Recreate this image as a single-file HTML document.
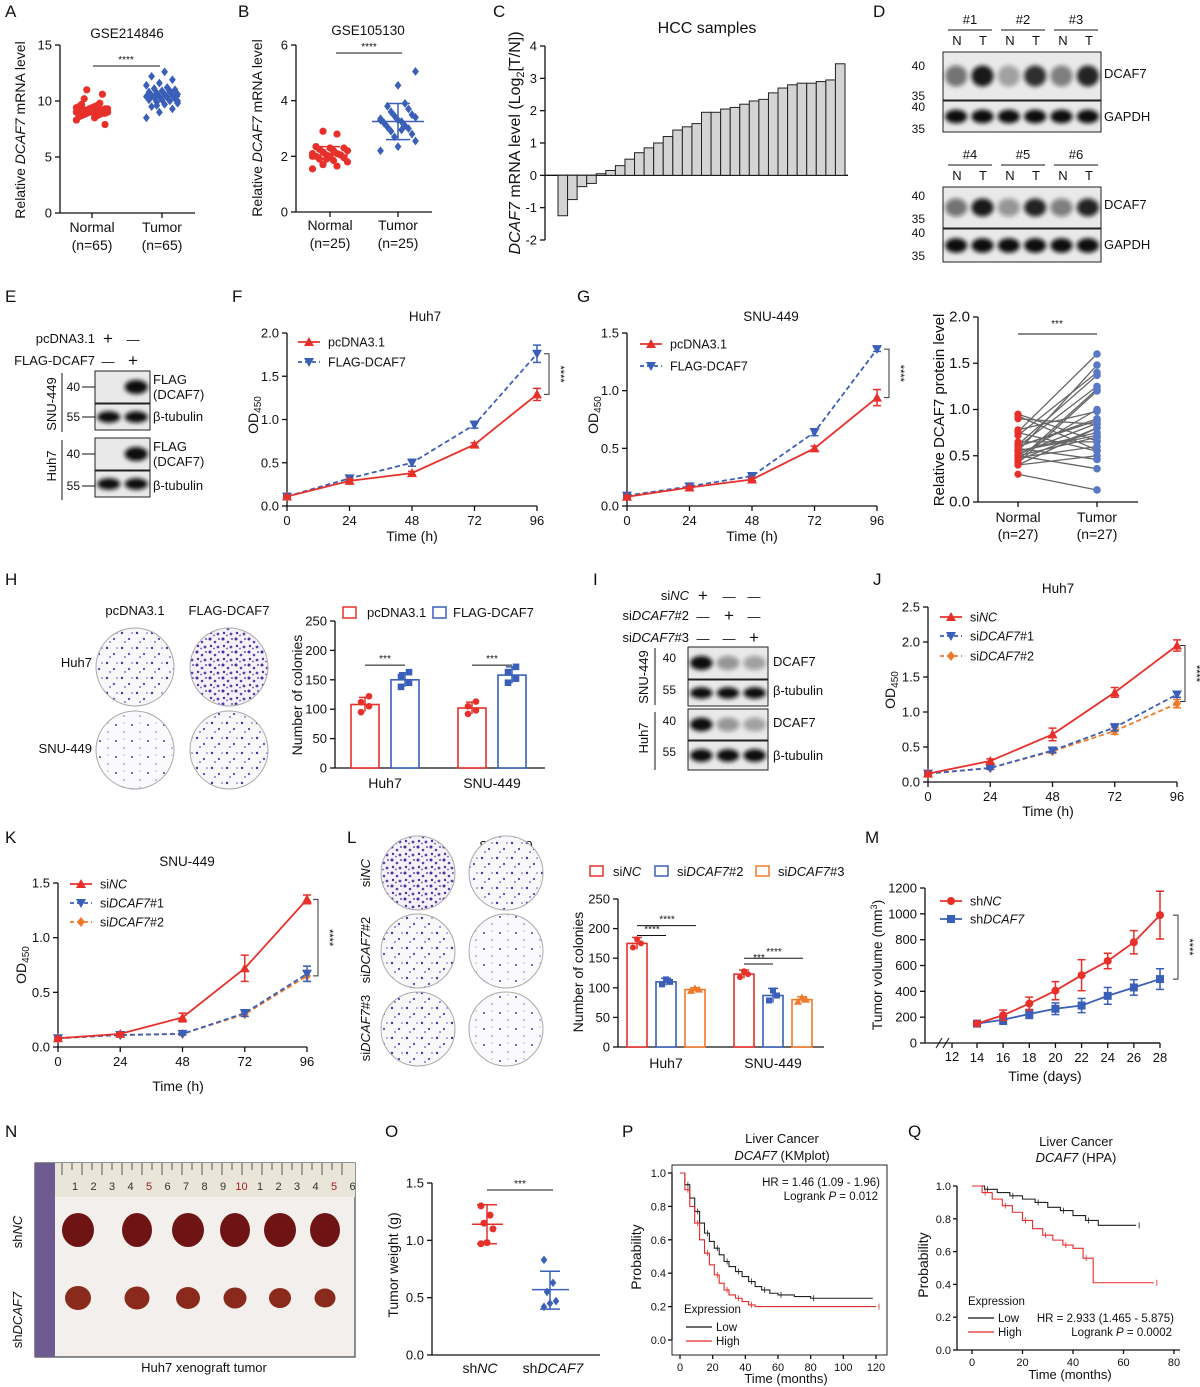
<!DOCTYPE html>
<html><head><meta charset="utf-8">
<style>
html,body{margin:0;padding:0;background:#fff;}
svg{display:block;font-family:"Liberation Sans",Arial,sans-serif;}
</style></head>
<body>
<svg id="fig" xmlns="http://www.w3.org/2000/svg" width="1200" height="1387" viewBox="0 0 1200 1387">
<defs>
<filter id="blur" x="-20%" y="-50%" width="140%" height="200%"><feGaussianBlur stdDeviation="2.2"/></filter>
<pattern id="dense" width="13" height="13" patternUnits="userSpaceOnUse"><rect width="13" height="13" fill="#f4f2f8"/><circle cx="2" cy="2" r="1.5" fill="#4b2fa0"/><circle cx="7" cy="5" r="1.3" fill="#5a3fb0"/><circle cx="3" cy="9" r="1.2" fill="#4b2fa0"/><circle cx="10" cy="10" r="1.4" fill="#5a3fb0"/><circle cx="11" cy="2" r="1" fill="#6a4fc0"/><circle cx="6" cy="11.5" r="0.9" fill="#6a4fc0"/></pattern>
<pattern id="medium" width="15" height="15" patternUnits="userSpaceOnUse"><rect width="15" height="15" fill="#f8f7fa"/><circle cx="2" cy="3" r="1.2" fill="#4b2fa0"/><circle cx="9" cy="9" r="1.1" fill="#5a3fb0"/><circle cx="12" cy="3" r="0.8" fill="#6a4fc0"/><circle cx="5" cy="12" r="0.9" fill="#6a4fc0"/></pattern>
<pattern id="sparse" width="16" height="16" patternUnits="userSpaceOnUse"><rect width="16" height="16" fill="#faf9fb"/><circle cx="4" cy="5" r="1" fill="#5a3fb0"/><circle cx="12" cy="12" r="0.8" fill="#7a62c0"/><circle cx="12" cy="3" r="0.6" fill="#9a88cc"/></pattern>
</defs>
</svg>
<script>
// ---------- data ----------
const aNormal=[8.3,8.5,8.6,8.7,8.7,8.8,8.8,8.9,8.9,8.9,9.0,9.0,9.0,9.0,9.1,9.1,9.1,9.1,9.2,9.2,9.2,9.2,9.3,9.3,9.3,9.4,9.4,9.5,9.5,9.6,9.7,9.8,10.2,10.6,11.0,7.9];
const aTumor=[8.5,9.0,9.3,9.5,9.7,9.8,9.9,10.0,10.1,10.1,10.2,10.3,10.3,10.4,10.4,10.5,10.5,10.6,10.6,10.7,10.8,10.8,10.9,11.0,11.1,11.2,11.4,11.6,11.9,12.2,12.6,10.0,9.6,10.9];
const bNormal=[1.55,1.65,1.7,1.8,1.85,1.9,1.95,2.0,2.0,2.05,2.05,2.1,2.1,2.15,2.2,2.2,2.25,2.3,2.3,2.35,2.05,1.9,2.0,2.8,2.9];
const bTumor=[2.2,2.35,2.55,2.7,2.8,2.9,3.0,3.05,3.1,3.2,3.25,3.3,3.3,3.4,3.45,3.5,3.6,3.7,3.8,3.9,3.2,2.95,3.35,4.55,5.05];
const cValues=[-1.25,-0.75,-0.35,-0.25,0.05,0.15,0.3,0.5,0.7,0.85,1.0,1.2,1.4,1.5,1.6,1.95,1.95,2.05,2.1,2.2,2.3,2.35,2.55,2.7,2.8,2.85,2.85,2.9,2.95,3.45];
const timeH=[0,24,48,72,96];
const fPc=[0.11,0.29,0.38,0.71,1.29], fPcErr=[0.01,0.02,0.02,0.02,0.07];
const fFlag=[0.11,0.32,0.5,0.94,1.76], fFlagErr=[0.01,0.02,0.04,0.04,0.1];
const gPc=[0.08,0.16,0.23,0.5,0.94], gPcErr=[0.01,0.01,0.01,0.02,0.07];
const gFlag=[0.09,0.17,0.26,0.64,1.36], gFlagErr=[0.01,0.01,0.01,0.03,0.02];
const pairNormal=[0.3,0.4,0.42,0.45,0.48,0.5,0.5,0.52,0.55,0.55,0.58,0.6,0.6,0.62,0.65,0.72,0.75,0.76,0.78,0.5,0.45,0.55,0.6,0.9,0.93,0.95,0.4];
const pairTumor=[0.13,0.5,1.2,0.8,0.6,1.0,0.36,0.85,1.48,0.75,0.46,1.25,0.9,1.37,0.65,1.4,0.55,1.6,0.98,0.7,1.22,0.72,0.88,0.84,0.56,0.66,0.8];
const hGroups=['Huh7','SNU-449'];
const hPc=[108,102], hPcSd=[12,10], hFlag=[150,158], hFlagSd=[12,14];
const hPcPts=[[95,105,112,122],[92,98,105,113]], hFlagPts=[[138,145,155,163],[145,152,163,172]];
const jNC=[0.12,0.3,0.68,1.28,1.95], jNCe=[0.02,0.03,0.09,0.07,0.08];
const j1=[0.12,0.2,0.45,0.78,1.25], j1e=[0.01,0.02,0.03,0.05,0.04];
const j2=[0.12,0.2,0.44,0.73,1.12], j2e=[0.01,0.02,0.03,0.05,0.06];
const kNC=[0.08,0.12,0.27,0.72,1.35], kNCe=[0.01,0.01,0.04,0.12,0.04];
const k1=[0.08,0.11,0.12,0.31,0.67], k1e=[0.01,0.01,0.01,0.03,0.07];
const k2=[0.08,0.11,0.12,0.3,0.65], k2e=[0.01,0.01,0.01,0.02,0.05];
const lNC=[175,123], lNCsd=[10,7], l2=[110,87], l2sd=[6,12], l3=[97,80], l3sd=[3,5];
const days=[14,16,18,20,22,24,26,28];
const mNC=[150,215,305,405,525,635,780,990], mNCe=[15,40,50,70,120,60,90,185];
const mSh=[150,180,225,265,290,365,430,495], mShe=[15,35,35,45,55,65,60,80];
const oNC=[1.3,1.22,1.15,1.1,0.98,0.97], oSh=[0.83,0.63,0.55,0.47,0.45,0.42];
const pLowT=[0,3,6,9,12,15,18,21,24,27,30,34,38,42,46,50,55,60,70,80,118];
const pLowS=[1,0.93,0.85,0.77,0.7,0.64,0.59,0.55,0.51,0.47,0.44,0.41,0.38,0.35,0.32,0.3,0.28,0.27,0.26,0.25,0.25];
const pHighT=[0,3,6,9,12,15,18,21,24,27,30,34,38,42,46,120];
const pHighS=[1,0.9,0.8,0.7,0.6,0.52,0.45,0.39,0.34,0.3,0.27,0.25,0.23,0.21,0.2,0.2];
const qLowT=[0,5,10,15,20,25,30,35,40,45,50,65];
const qLowS=[1,0.98,0.96,0.94,0.92,0.9,0.87,0.85,0.82,0.79,0.76,0.76];
const qHighT=[0,4,8,12,16,20,24,28,32,36,40,44,48,72];
const qHighS=[1,0.96,0.92,0.88,0.84,0.79,0.74,0.7,0.67,0.64,0.62,0.56,0.41,0.41];

// ---------- helpers ----------
const NS='http://www.w3.org/2000/svg';
const S=document.getElementById('fig');
const RED='#e8302b', BLUE='#3a5fb8', ORANGE='#f07a2a';
function mk(tag,attrs,name){const e=document.createElementNS(NS,tag);for(const k in attrs)e.setAttribute(k,attrs[k]);


S.appendChild(e);return e;}
function tx(x,y,s,name,o){o=o||{};const e=mk('text',{x:x,y:y,'font-size':o.fs||13,'text-anchor':o.a||'middle',fill:o.fill||'#111','font-style':o.it?'italic':'normal'},name);
if(o.rot)e.setAttribute('transform','rotate('+o.rot+' '+x+' '+y+')');
e.innerHTML=s;return e;}
function ln(x1,y1,x2,y2,name,o){o=o||{};return mk('line',{x1:x1,y1:y1,x2:x2,y2:y2,stroke:o.c||'#111','stroke-width':o.w||1.3,'stroke-dasharray':o.d||'none'},name);}
function sc(d0,d1,p0,p1){return v=>p0+(v-d0)/(d1-d0)*(p1-p0);}
function yAxis(x,sy,ticks,name,fs,dec){ln(x,sy(ticks[0]),x,sy(ticks[ticks.length-1]),name);
ticks.forEach(t=>{ln(x-5,sy(t),x,sy(t),name+'-tick');tx(x-8,sy(t)+4.5,dec?t.toFixed(dec):String(t),name+'-label',{a:'end',fs:fs||13});});}
function xAxis(y,sx,ticks,name,labels,fs){ln(sx(ticks[0]),y,sx(ticks[ticks.length-1]),y,name);
ticks.forEach((t,i)=>{ln(sx(t),y,sx(t),y+5,name+'-tick');tx(sx(t),y+19,labels?labels[i]:String(t),name+'-label',{fs:fs||13});});}
function marker(x,y,shape,color,name,sz){sz=sz||4;
if(shape==='tri')return mk('polygon',{points:(x)+','+(y-sz-1)+' '+(x-sz-1)+','+(y+sz)+' '+(x+sz+1)+','+(y+sz),fill:color},name);
if(shape==='tridown')return mk('polygon',{points:(x)+','+(y+sz+1)+' '+(x-sz-1)+','+(y-sz)+' '+(x+sz+1)+','+(y-sz),fill:color},name);
if(shape==='dia')return mk('polygon',{points:x+','+(y-sz-1)+' '+(x+sz)+','+y+' '+x+','+(y+sz+1)+' '+(x-sz)+','+y,fill:color},name);
if(shape==='sq')return mk('rect',{x:x-sz,y:y-sz,width:2*sz,height:2*sz,fill:color},name);
return mk('circle',{cx:x,cy:y,r:sz,fill:color},name);}
function series(sx,sy,xs,ys,es,color,shape,dash,name){
let d='';xs.forEach((x,i)=>{d+=(i?'L':'M')+sx(x)+','+sy(ys[i]);});
mk('path',{d:d,fill:'none',stroke:color,'stroke-width':1.8,'stroke-dasharray':dash?'5,3':'none'},name+'-line');
xs.forEach((x,i)=>{if(es&&es[i]){const X=sx(x);ln(X,sy(ys[i]-es[i]),X,sy(ys[i]+es[i]),name+'-errorbar',{c:color,w:1.5});
ln(X-4,sy(ys[i]+es[i]),X+4,sy(ys[i]+es[i]),name+'-errorcap',{c:color,w:1.5});ln(X-4,sy(ys[i]-es[i]),X+4,sy(ys[i]-es[i]),name+'-errorcap',{c:color,w:1.5});}
marker(sx(x),sy(ys[i]),shape,color,name+'-point');});}
function bracket(x,y1,y2,name){mk('path',{d:'M'+(x-5)+','+y1+'H'+x+'V'+y2+'H'+(x-5),fill:'none',stroke:'#333','stroke-width':1},name);
tx(x+8,(y1+y2)/2,'****',name+'-stars',{fs:11,rot:90});}
function panelLabel(x,y,s){tx(x,y,s,'panel-label-'+s,{fs:17,a:'start'});}
function legendLine(x,y,color,shape,dash,label,name){ln(x,y,x+22,y,name+'-swatch',{c:color,w:1.8,d:dash?'4,3':'none'});marker(x+11,y,shape,color,name+'-marker');tx(x+30,y+4.5,label,name,{a:'start',fs:12.5});}
function ylabel(x,y,s,name,fs){tx(x,y,s,name,{rot:-90,fs:fs||14});}
function blot(x,y,w,h,lanes,name){mk('rect',{x:x,y:y,width:w,height:h,fill:'#e9e9e9',stroke:'#222','stroke-width':1},name);
const lw=w/lanes.length;lanes.forEach((v,i)=>{if(v>0)mk('ellipse',{cx:x+lw*(i+0.5),cy:y+h/2,rx:lw*0.42,ry:h*0.22,fill:'#111','fill-opacity':v,filter:'url(#blur)'},name+'-band');});}

// ---------- Panel A ----------
panelLabel(5,17,'A');
tx(127,38,'GSE214846','panel-a-title',{fs:13.5});
let sA=sc(0,15,213,45);
yAxis(60,sA,[0,5,10,15],'panel-a-y-axis');
ln(60,213,195,213,'panel-a-x-axis');ln(92,213,92,218,'tick');ln(162,213,162,218,'tick');
tx(92,232,'Normal','x-label-normal',{fs:14});tx(92,250,'(n=65)','x-label-n',{fs:14});
tx(162,232,'Tumor','x-label-tumor',{fs:14});tx(162,250,'(n=65)','x-label-n',{fs:14});
ylabel(25,130,'Relative <tspan font-style="italic">DCAF7</tspan> mRNA level','panel-a-y-title');
aNormal.forEach((v,i)=>marker(92+((i*7)%13-6)*2.6,sA(v),'c',RED,'normal-point',3.6));
aTumor.forEach((v,i)=>marker(162+((i*5)%13-6)*2.6,sA(v),'dia',BLUE,'tumor-point',3.4));
ln(75,sA(9.1),110,sA(9.1),'mean',{c:RED,w:1.5});ln(145,sA(10.4),180,sA(10.4),'mean',{c:BLUE,w:1.5});
ln(93,66,160,66,'sig-line',{w:1});tx(126,63,'****','sig',{fs:10});

// ---------- Panel B ----------
panelLabel(238,17,'B');
tx(368,35,'GSE105130','panel-b-title',{fs:13.5});
let sB=sc(0,6,212,45);
yAxis(296,sB,[0,2,4,6],'panel-b-y-axis');
ln(296,212,432,212,'panel-b-x-axis');ln(330,212,330,217,'tick');ln(398,212,398,217,'tick');
tx(330,230,'Normal','x-label-normal',{fs:14});tx(330,248,'(n=25)','x-label-n',{fs:14});
tx(398,230,'Tumor','x-label-tumor',{fs:14});tx(398,248,'(n=25)','x-label-n',{fs:14});
ylabel(262,128,'Relative <tspan font-style="italic">DCAF7</tspan> mRNA level','panel-b-y-title');
bNormal.forEach((v,i)=>marker(330+((i*7)%11-5)*3.5,sB(v),'c',RED,'normal-point',3.6));
bTumor.forEach((v,i)=>marker(398+((i*5)%11-5)*3.5,sB(v),'dia',BLUE,'tumor-point',3.4));
ln(312,sB(2.05),348,sB(2.05),'mean',{c:RED,w:1.5});ln(320,sB(2.35),340,sB(2.35),'sd',{c:RED,w:1.5});
ln(372,sB(3.25),424,sB(3.25),'mean',{c:BLUE,w:1.5});ln(386,sB(3.9),410,sB(3.9),'sd',{c:BLUE,w:1.5});ln(386,sB(2.6),410,sB(2.6),'sd',{c:BLUE,w:1.5});ln(398,sB(2.6),398,sB(3.9),'sd',{c:BLUE,w:1.5});
ln(336,53,402,53,'sig-line',{w:1});tx(369,50,'****','sig',{fs:10});

// ---------- Panel C ----------
panelLabel(493,17,'C');
tx(707,33,'HCC samples','panel-c-title',{fs:16});
let sC=sc(-2,4,240,46);
yAxis(545,sC,[-2,-1,0,1,2,3,4],'panel-c-y-axis');
ln(545,sC(0),848,sC(0),'zero-line');
ylabel(520,143,'<tspan font-style="italic">DCAF7</tspan> mRNA level (Log<tspan font-size="11" dy="4">2</tspan><tspan dy="-4">[T/N])</tspan>','panel-c-y-title',16);
const bwC=(845-558)/cValues.length;
cValues.forEach((v,i)=>{const y0=sC(0),y1=sC(v);mk('rect',{x:558+i*bwC,y:Math.min(y0,y1),width:bwC,height:Math.abs(y1-y0),fill:'#d4d4d4',stroke:'#222','stroke-width':1},'bar-sample');});

// ---------- Panel D ----------
panelLabel(873,17,'D');
function dHeader(y,labs){[0,1,2].forEach(i=>{const cx=970+i*53;tx(cx,y,labs[i],'sample-label',{fs:13});ln(cx-22,y+6,cx+22,y+6,'underline',{w:1});tx(cx-13,y+21,'N','n-label');tx(cx+13,y+21,'T','t-label');});}
dHeader(24,['#1','#2','#3']);
blot(943,52,158,48,[0.55,0.95,0.35,0.85,0.5,0.9],'dcaf7-blot');
blot(943,101,158,31,[1,1,1,1,1,1],'gapdh-blot');
tx(925,70,'40','mw',{fs:12,a:'end'});tx(925,100,'35','mw',{fs:12,a:'end'});tx(925,111,'40','mw',{fs:12,a:'end'});tx(925,133,'35','mw',{fs:12,a:'end'});
tx(1104,78,'DCAF7','label',{a:'start'});tx(1104,121,'GAPDH','label',{a:'start'});
dHeader(159,['#4','#5','#6']);
blot(943,187,158,41,[0.55,0.95,0.4,0.9,0.5,0.9],'dcaf7-blot');
blot(943,229,158,33,[1,1,1,1,1,1],'gapdh-blot');
tx(925,200,'40','mw',{fs:12,a:'end'});tx(925,223,'35','mw',{fs:12,a:'end'});tx(925,237,'40','mw',{fs:12,a:'end'});tx(925,260,'35','mw',{fs:12,a:'end'});
tx(1104,209,'DCAF7','label',{a:'start'});tx(1104,249,'GAPDH','label',{a:'start'});

// ---------- Panel E ----------
panelLabel(5,302,'E');
tx(95,343,'pcDNA3.1','label',{a:'end'});tx(95,365,'FLAG-DCAF7','label',{a:'end'});
tx(108,344,'+','plus',{fs:17});tx(133,344,'—','minus');tx(108,366,'—','minus');tx(133,366,'+','plus',{fs:17});
blot(95,371,55,32,[0,1],'flag-blot');blot(95,404,55,26,[1,1],'tubulin-blot');
blot(95,438,55,32,[0,1],'flag-blot');blot(95,471,55,26,[1,1],'tubulin-blot');
tx(80,391,'40','mw',{fs:12,a:'end'});tx(80,421,'55','mw',{fs:12,a:'end'});tx(80,458,'40','mw',{fs:12,a:'end'});tx(80,490,'55','mw',{fs:12,a:'end'});
ln(82,387,95,387,'mw-tick',{w:1});ln(82,417,95,417,'mw-tick',{w:1});ln(82,454,95,454,'mw-tick',{w:1});ln(82,486,95,486,'mw-tick',{w:1});
tx(153,384,'FLAG','label',{a:'start'});tx(153,399,'(DCAF7)','label',{a:'start'});tx(153,421,'β-tubulin','label',{a:'start'});
tx(153,451,'FLAG','label',{a:'start'});tx(153,466,'(DCAF7)','label',{a:'start'});tx(153,490,'β-tubulin','label',{a:'start'});
tx(56,404,'SNU-449','cell-line',{rot:-90});tx(56,466,'Huh7','cell-line',{rot:-90});
ln(62,373,62,432,'bracket',{w:1});ln(62,440,62,500,'bracket',{w:1});

// ---------- Panel F ----------
panelLabel(232,302,'F');
tx(425,321,'Huh7','panel-f-title',{fs:13.5});
let fX=sc(0,96,287,537),fY=sc(0,2,506,333);
yAxis(287,fY,[0,0.5,1,1.5,2],'panel-f-y-axis',13,1);
xAxis(506,fX,timeH,'panel-f-x-axis');
tx(412,541,'Time (h)','panel-f-x-title',{fs:14});
ylabel(258,415,'OD<tspan font-size="10" dy="3">450</tspan>','panel-f-y-title');
series(fX,fY,timeH,fFlag,fFlagErr,BLUE,'tridown',true,'flag-dcaf7');
series(fX,fY,timeH,fPc,fPcErr,RED,'tri',false,'pcdna');
legendLine(298,342,RED,'tri',false,'pcDNA3.1','legend-pcdna');legendLine(298,362,BLUE,'tridown',true,'FLAG-DCAF7','legend-flag');
bracket(549,fY(1.76),fY(1.29),'sig-f');

// ---------- Panel G ----------
panelLabel(577,302,'G');
tx(771,321,'SNU-449','panel-g-title',{fs:13.5});
let gX=sc(0,96,627,877),gY=sc(0,1.5,506,333);
yAxis(627,gY,[0,0.5,1,1.5],'panel-g-y-axis',13,1);
xAxis(506,gX,timeH,'panel-g-x-axis');
tx(752,541,'Time (h)','panel-g-x-title',{fs:14});
ylabel(598,415,'OD<tspan font-size="10" dy="3">450</tspan>','panel-g-y-title');
series(gX,gY,timeH,gFlag,gFlagErr,BLUE,'tridown',true,'flag-dcaf7');
series(gX,gY,timeH,gPc,gPcErr,RED,'tri',false,'pcdna');
legendLine(640,344,RED,'tri',false,'pcDNA3.1','legend-pcdna');legendLine(640,366,BLUE,'tridown',true,'FLAG-DCAF7','legend-flag');
bracket(889,gY(1.36),gY(0.94),'sig-g');

// ---------- Paired panel ----------
let pY=sc(0,2,502,317);
yAxis(978,pY,[0,0.5,1,1.5,2],'paired-y-axis',15,1);
ln(978,502,1138,502,'paired-x-axis');ln(1018,502,1018,507,'tick');ln(1097,502,1097,507,'tick');
tx(1018,522,'Normal','x-label-normal',{fs:14});tx(1018,539,'(n=27)','x-label-n',{fs:14});
tx(1097,522,'Tumor','x-label-tumor',{fs:14});tx(1097,539,'(n=27)','x-label-n',{fs:14});
ylabel(944,410,'Relative DCAF7 protein level','paired-y-title',15);
pairNormal.forEach((v,i)=>ln(1018,pY(v),1097,pY(pairTumor[i]),'pair-line',{c:'#666',w:1.3}));
pairNormal.forEach(v=>marker(1018,pY(v),'c',RED,'normal-point',3.6));
pairTumor.forEach(v=>marker(1097,pY(v),'c','#5a78c8','tumor-point',3.8));
ln(1018,334,1097,334,'sig-line',{w:1});tx(1057,327,'***','sig',{fs:10});

// ---------- Panel H ----------
panelLabel(5,585,'H');
tx(135,615,'pcDNA3.1','label');tx(229,615,'FLAG-DCAF7','label');
tx(92,667,'Huh7','label',{a:'end'});tx(92,753,'SNU-449','label',{a:'end'});
mk('circle',{cx:135,cy:667,r:39,fill:'url(#medium)',stroke:'#aaa'},'plate-huh7-pcdna');
mk('circle',{cx:229,cy:667,r:39,fill:'url(#dense)',stroke:'#aaa'},'plate-huh7-flag');
mk('circle',{cx:135,cy:750,r:39,fill:'url(#sparse)',stroke:'#aaa'},'plate-snu-pcdna');
mk('circle',{cx:229,cy:750,r:39,fill:'url(#medium)',stroke:'#aaa'},'plate-snu-flag');
let hY=sc(0,250,768,621);
yAxis(335,hY,[0,50,100,150,200,250],'panel-h-y-axis');
ln(335,768,545,768,'panel-h-x-axis');
tx(385,788,'Huh7','x-label',{fs:14});tx(492,788,'SNU-449','x-label',{fs:14});
ylabel(302,695,'Number of colonies','panel-h-y-title');
hGroups.forEach((g,gi)=>{const base=gi?472:365;
[[hPc,hPcSd,hPcPts,RED,'o'],[hFlag,hFlagSd,hFlagPts,BLUE,'sq']].forEach((s,si)=>{const cx=base+si*40,v=s[0][gi];
mk('rect',{x:cx-14,y:hY(v),width:28,height:768-hY(v),fill:'#fff',stroke:s[3],'stroke-width':1.6},'bar-'+g);
ln(cx,hY(v-s[1][gi]),cx,hY(v+s[1][gi]),'errorbar',{c:s[3],w:1.5});ln(cx-6,hY(v+s[1][gi]),cx+6,hY(v+s[1][gi]),'errorcap',{c:s[3],w:1.5});
s[2][gi].forEach((p,k)=>marker(cx+(k%2?4:-4),hY(p),s[4]==='sq'?'sq':'c',s[3],'colony-point',3.3));});
ln(base,hY(175),base+40,hY(175),'sig-line',{w:1});tx(base+20,hY(175)-3,'***','sig',{fs:10});});
mk('rect',{x:343,y:607,width:13,height:11,fill:'#fff',stroke:RED,'stroke-width':1.5},'legend-swatch');tx(367,617,'pcDNA3.1','legend-pcdna',{a:'start'});
mk('rect',{x:433,y:607,width:13,height:11,fill:'#fff',stroke:BLUE,'stroke-width':1.5},'legend-swatch');tx(453,617,'FLAG-DCAF7','legend-flag',{a:'start'});

// ---------- Panel I ----------
panelLabel(593,585,'I');
tx(689,600,'si<tspan font-style="italic">NC</tspan>','label',{a:'end'});
tx(689,620,'si<tspan font-style="italic">DCAF7</tspan>#2','label',{a:'end'});
tx(689,642,'si<tspan font-style="italic">DCAF7</tspan>#3','label',{a:'end'});
tx(703,601,'+','plus',{fs:17});tx(729,601,'—','minus');tx(754,601,'—','minus');
tx(703,621,'—','minus');tx(729,621,'+','plus',{fs:17});tx(754,621,'—','minus');
tx(703,643,'—','minus');tx(729,643,'—','minus');tx(754,643,'+','plus',{fs:17});
blot(688,647,80,32,[1,0.4,0.35],'dcaf7-blot');blot(688,680,80,26,[1,1,1],'tubulin-blot');
blot(688,709,80,31,[1,0.4,0.35],'dcaf7-blot');blot(688,741,80,29,[1,1,1],'tubulin-blot');
tx(676,662,'40','mw',{fs:12,a:'end'});tx(676,694,'55','mw',{fs:12,a:'end'});tx(676,725,'40','mw',{fs:12,a:'end'});tx(676,756,'55','mw',{fs:12,a:'end'});
tx(773,666,'DCAF7','label',{a:'start'});tx(773,695,'β-tubulin','label',{a:'start'});tx(773,727,'DCAF7','label',{a:'start'});tx(773,760,'β-tubulin','label',{a:'start'});
tx(648,677,'SNU-449','cell-line',{rot:-90});tx(648,738,'Huh7','cell-line',{rot:-90});
ln(655,648,655,705,'bracket',{w:1});ln(655,712,655,770,'bracket',{w:1});

// ---------- Panel J ----------
panelLabel(873,585,'J');
tx(1058,593,'Huh7','panel-j-title',{fs:13.5});
let jX=sc(0,96,928,1177),jY=sc(0,2.5,782,607);
yAxis(928,jY,[0,0.5,1,1.5,2,2.5],'panel-j-y-axis',13,1);
xAxis(782,jX,timeH,'panel-j-x-axis');
tx(1048,816,'Time (h)','panel-j-x-title',{fs:14});
ylabel(895,690,'OD<tspan font-size="10" dy="3">450</tspan>','panel-j-y-title');
series(jX,jY,timeH,j2,j2e,ORANGE,'dia',true,'sidcaf7-2');
series(jX,jY,timeH,j1,j1e,BLUE,'tridown',true,'sidcaf7-1');
series(jX,jY,timeH,jNC,jNCe,RED,'tri',false,'sinc');
legendLine(940,617,RED,'tri',false,'si<tspan font-style="italic">NC</tspan>','legend-sinc');
legendLine(940,636,BLUE,'tridown',true,'si<tspan font-style="italic">DCAF7</tspan>#1','legend-si1');
legendLine(940,656,ORANGE,'dia',true,'si<tspan font-style="italic">DCAF7</tspan>#2','legend-si2');
bracket(1185,jY(1.95),jY(1.15),'sig-j');

// ---------- Panel K ----------
panelLabel(5,843,'K');
tx(187,866,'SNU-449','panel-k-title',{fs:13.5});
let kX=sc(0,96,58,307),kY=sc(0,1.5,1047,883);
yAxis(58,kY,[0,0.5,1,1.5],'panel-k-y-axis',13,1);
xAxis(1047,kX,timeH,'panel-k-x-axis');
tx(178,1091,'Time (h)','panel-k-x-title',{fs:14});
ylabel(26,965,'OD<tspan font-size="10" dy="3">450</tspan>','panel-k-y-title');
series(kX,kY,timeH,k2,k2e,ORANGE,'dia',true,'sidcaf7-2');
series(kX,kY,timeH,k1,k1e,BLUE,'tridown',true,'sidcaf7-1');
series(kX,kY,timeH,kNC,kNCe,RED,'tri',false,'sinc');
legendLine(70,884,RED,'tri',false,'si<tspan font-style="italic">NC</tspan>','legend-sinc');
legendLine(70,903,BLUE,'tridown',true,'si<tspan font-style="italic">DCAF7</tspan>#1','legend-si1');
legendLine(70,922,ORANGE,'dia',true,'si<tspan font-style="italic">DCAF7</tspan>#2','legend-si2');
bracket(318,kY(1.35),kY(0.65),'sig-k');

// ---------- Panel L ----------
panelLabel(347,843,'L');
tx(418,850,'Huh7','label');tx(506,850,'SNU-449','label');
tx(370,873,'si<tspan font-style="italic">NC</tspan>','row-label',{rot:-90});
tx(370,950,'si<tspan font-style="italic">DCAF7</tspan>#2','row-label',{rot:-90});
tx(370,1028,'si<tspan font-style="italic">DCAF7</tspan>#3','row-label',{rot:-90});
[['dense','medium'],['medium','sparse'],['medium','sparse']].forEach((r,ri)=>r.forEach((p,ci)=>mk('circle',{cx:418+ci*88,cy:873+ri*78,r:37,fill:'url(#'+p+')',stroke:'#aaa'},'colony-plate')));
let lY=sc(0,250,1047,899);
yAxis(618,lY,[0,50,100,150,200,250],'panel-l-y-axis');
ln(618,1047,824,1047,'panel-l-x-axis');
tx(666,1068,'Huh7','x-label',{fs:14});tx(773,1068,'SNU-449','x-label',{fs:14});
ylabel(583,972,'Number of colonies','panel-l-y-title');
[0,1].forEach(gi=>{const base=gi?744:637;
[[lNC,lNCsd,RED,'c'],[l2,l2sd,BLUE,'sq'],[l3,l3sd,ORANGE,'tri']].forEach((s,si)=>{const cx=base+si*29,v=s[0][gi];
mk('rect',{x:cx-10,y:lY(v),width:20,height:1047-lY(v),fill:'#fff',stroke:s[2],'stroke-width':1.6},'bar');
ln(cx,lY(v-s[1][gi]),cx,lY(v+s[1][gi]),'errorbar',{c:s[2],w:1.5});ln(cx-5,lY(v+s[1][gi]),cx+5,lY(v+s[1][gi]),'errorcap',{c:s[2],w:1.5});
[-4,4,0].forEach((o,k)=>marker(cx+o,lY(v+(k-1)*s[1][gi]*0.7),s[3],s[2],'colony-point',3));});
const yTop=gi?lY(150):lY(205),ySec=gi?lY(120):lY(168);
ln(base,yTop,base+59,yTop,'sig-line',{w:1});tx(base+30,yTop-3,'****','sig',{fs:10});
ln(base,ySec-12,base+29,ySec-12,'sig-line',{w:1});tx(base+15,ySec-15,gi?'***':'****','sig',{fs:10});});
mk('rect',{x:590,y:866,width:13,height:10,fill:'#fff',stroke:RED,'stroke-width':1.5},'legend-swatch');tx(613,876,'si<tspan font-style="italic">NC</tspan>','legend-sinc',{a:'start'});
mk('rect',{x:655,y:866,width:13,height:10,fill:'#fff',stroke:BLUE,'stroke-width':1.5},'legend-swatch');tx(677,876,'si<tspan font-style="italic">DCAF7</tspan>#2','legend-si2',{a:'start'});
mk('rect',{x:756,y:866,width:13,height:10,fill:'#fff',stroke:ORANGE,'stroke-width':1.5},'legend-swatch');tx(778,876,'si<tspan font-style="italic">DCAF7</tspan>#3','legend-si3',{a:'start'});

// ---------- Panel M ----------
panelLabel(865,843,'M');
let mX=sc(14,28,977,1160),mY=sc(0,1200,1043,888);
yAxis(925,mY,[0,200,400,600,800,1000,1200],'panel-m-y-axis');
ln(925,1043,1160,1043,'panel-m-x-axis');
ln(936,1048,942,1038,'axis-break',{w:1});ln(943,1048,949,1038,'axis-break',{w:1});
tx(952,1061,'12','x-label');ln(952,1043,952,1048,'tick');
xAxis(1043,mX,days,'panel-m-x-axis-ticks');
tx(1045,1081,'Time (days)','panel-m-x-title',{fs:14});
ylabel(882,965,'Tumor volume (mm<tspan font-size="9" dy="-5">3</tspan><tspan dy="5">)</tspan>','panel-m-y-title');
series(mX,mY,days,mSh,mShe,BLUE,'sq',false,'shdcaf7');
series(mX,mY,days,mNC,mNCe,RED,'c',false,'shnc');
legendLine(940,901,RED,'c',false,'sh<tspan font-style="italic">NC</tspan>','legend-shnc');
legendLine(940,919,BLUE,'sq',false,'sh<tspan font-style="italic">DCAF7</tspan>','legend-shdcaf7');
bracket(1178,mY(990),mY(495),'sig-m');

// ---------- Panel N ----------
panelLabel(5,1137,'N');
mk('rect',{x:35,y:1163,width:320,height:194,fill:'#f2efec',stroke:'#222','stroke-width':1},'xenograft-photo');
mk('rect',{x:35,y:1163,width:320,height:34,fill:'#e9e5d8'},'ruler');
mk('rect',{x:35,y:1163,width:20,height:194,fill:'#6d5a8e'},'ruler-side');
for(let i=0;i<29;i++){ln(62+i*10,1163,62+i*10,i%2?1170:1175,'ruler-tick',{w:0.8,c:'#333'});}
['1','2','3','4','5','6','7','8','9','10','1','2','3','4','5','6'].forEach((s,i)=>tx(75+i*18.5,1190,s,'ruler-number',{fs:11,fill:(s==='5'||s==='10')?'#a02020':'#333'}));
[78,137,188,235,280,325].forEach((x,i)=>mk('ellipse',{cx:x,cy:1230,rx:16-i%2,ry:17,fill:'#6e1414'},'tumor-shnc'));
[78,137,188,235,280,325].forEach((x,i)=>mk('ellipse',{cx:x,cy:1298,rx:13-i*0.5,ry:12-i*0.5,fill:'#8a2a1c'},'tumor-shdcaf7'));
tx(22,1232,'sh<tspan font-style="italic">NC</tspan>','row-label',{rot:-90});
tx(22,1320,'sh<tspan font-style="italic">DCAF7</tspan>','row-label',{rot:-90});
tx(204,1372,'Huh7 xenograft tumor','caption');

// ---------- Panel O ----------
panelLabel(385,1137,'O');
let oY=sc(0,1.5,1355,1183);
yAxis(432,oY,[0,0.5,1,1.5],'panel-o-y-axis',13,1);
ln(432,1355,600,1355,'panel-o-x-axis');
tx(480,1373,'sh<tspan font-style="italic">NC</tspan>','x-label',{fs:14});tx(553,1373,'sh<tspan font-style="italic">DCAF7</tspan>','x-label',{fs:14});
ylabel(398,1265,'Tumor weight (g)','panel-o-y-title');
oNC.forEach((v,i)=>marker(487+((i*3)%5-2)*3,oY(v),'c',RED,'shnc-point',3.5));
oSh.forEach((v,i)=>marker(550+((i*3)%5-2)*3,oY(v),'dia',BLUE,'shdcaf7-point',3.3));
ln(472,oY(1.14),503,oY(1.14),'mean',{c:RED,w:1.5});ln(477,oY(1.31),497,oY(1.31),'sd',{c:RED,w:1.5});ln(477,oY(0.97),497,oY(0.97),'sd',{c:RED,w:1.5});ln(487,oY(0.97),487,oY(1.31),'sd',{c:RED,w:1.5});
ln(532,oY(0.57),569,oY(0.57),'mean',{c:BLUE,w:1.5});ln(540,oY(0.73),560,oY(0.73),'sd',{c:BLUE,w:1.5});ln(540,oY(0.4),560,oY(0.4),'sd',{c:BLUE,w:1.5});ln(550,oY(0.4),550,oY(0.73),'sd',{c:BLUE,w:1.5});
ln(487,1190,553,1190,'sig-line',{w:1});tx(520,1187,'***','sig',{fs:10});

// ---------- Panel P ----------
panelLabel(622,1137,'P');
tx(782,1143,'Liver Cancer','panel-p-title');tx(782,1160,'<tspan font-style="italic">DCAF7</tspan> (KMplot)','panel-p-subtitle');
mk('rect',{x:672,y:1165,width:215,height:190,fill:'none',stroke:'#222','stroke-width':1},'panel-p-frame');
let pX=sc(0,120,680,876),pYk=sc(0,1,1340,1173);
ln(672,1173,672,1340,'axis');[0,0.2,0.4,0.6,0.8,1].forEach(t=>{ln(668,pYk(t),672,pYk(t),'tick');tx(666,pYk(t)+4,t.toFixed(1),'tick-label',{a:'end',fs:11});});
[0,20,40,60,80,100,120].forEach(t=>{ln(pX(t),1355,pX(t),1359,'tick');tx(pX(t),1371,String(t),'tick-label',{fs:11});});
tx(786,1383,'Time (months)','panel-p-x-title');
ylabel(641,1257,'Probability','panel-p-y-title');
function km(sx,sy,T,Sv,color,name){let d='M'+sx(T[0])+','+sy(Sv[0]);for(let i=1;i<T.length;i++){d+='H'+sx(T[i])+'V'+sy(Sv[i]);}
mk('path',{d:d,fill:'none',stroke:color,'stroke-width':1.1},name);
T.forEach((t,i)=>{if(i%2)ln(sx(t)+3,sy(Sv[i])-3,sx(t)+3,sy(Sv[i])+3,name+'-censor',{c:color,w:0.8});});}
km(pX,pYk,pLowT,pLowS,'#222','km-low');km(pX,pYk,pHighT,pHighS,'#e52a2a','km-high');
tx(880,1186,'HR = 1.46 (1.09 - 1.96)','hr',{a:'end',fs:11.5});tx(878,1200,'Logrank <tspan font-style="italic">P</tspan> = 0.012','logrank',{a:'end',fs:11.5});
tx(684,1313,'Expression','legend-title',{a:'start',fs:11.5});
ln(686,1327,712,1327,'legend-low',{w:1.2});tx(716,1331,'Low','legend-low-label',{a:'start',fs:11.5});
ln(686,1341,712,1341,'legend-high',{c:'#e52a2a',w:1.2});tx(716,1345,'High','legend-high-label',{a:'start',fs:11.5});

// ---------- Panel Q ----------
panelLabel(908,1137,'Q');
tx(1076,1146,'Liver Cancer','panel-q-title');tx(1076,1162,'<tspan font-style="italic">DCAF7</tspan> (HPA)','panel-q-subtitle');
let qX=sc(0,80,972,1174),qY=sc(0,1,1350,1186);
ln(957,1186,957,1350,'axis');ln(957,1350,1180,1350,'axis');
[0,0.2,0.4,0.6,0.8,1].forEach(t=>{ln(953,qY(t),957,qY(t),'tick');tx(951,qY(t)+4,t.toFixed(1),'tick-label',{a:'end',fs:11});});
[0,20,40,60,80].forEach(t=>{ln(qX(t),1350,qX(t),1354,'tick');tx(qX(t),1366,String(t),'tick-label',{fs:11});});
tx(1070,1379,'Time (months)','panel-q-x-title');
ylabel(928,1265,'Probability','panel-q-y-title');
km(qX,qY,qLowT,qLowS,'#222','km-low');km(qX,qY,qHighT,qHighS,'#e52a2a','km-high');
tx(968,1305,'Expression','legend-title',{a:'start',fs:11.5});
ln(968,1318,994,1318,'legend-low',{w:1.2});tx(998,1322,'Low','legend-low-label',{a:'start',fs:11.5});
ln(968,1332,994,1332,'legend-high',{c:'#e52a2a',w:1.2});tx(998,1336,'High','legend-high-label',{a:'start',fs:11.5});
tx(1174,1322,'HR = 2.933 (1.465 - 5.875)','hr',{a:'end',fs:11.5});tx(1172,1336,'Logrank <tspan font-style="italic">P</tspan> = 0.0002','logrank',{a:'end',fs:11.5});
</script>
</body></html>
